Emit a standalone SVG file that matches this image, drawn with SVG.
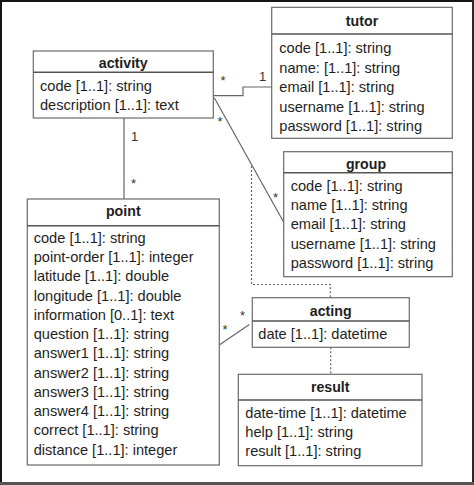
<svg xmlns="http://www.w3.org/2000/svg" width="474" height="485" viewBox="0 0 474 485">
<style>
.box{fill:#fff;stroke:#6a6a6a;stroke-width:1.2}
.sep{stroke:#555;stroke-width:1.6}
.t{font-family:"Liberation Sans",Arial,sans-serif;font-size:14.6px;fill:#1e1e1e}
.h{font-family:"Liberation Sans",Arial,sans-serif;font-size:14.2px;font-weight:bold;fill:#1e1e1e;text-anchor:middle}
.m{font-family:"Liberation Sans",Arial,sans-serif;font-size:13px;fill:#333}
.ln{fill:none;stroke:#666;stroke-width:1.2}
.dash{fill:none;stroke:#666;stroke-width:1.2;stroke-dasharray:2 2}
</style>
<rect x="0" y="0" width="474" height="485" fill="#fff"/>
<g id="frame">
<rect x="0" y="0" width="474" height="2" fill="#151515"/>
<rect x="0" y="0" width="2" height="485" fill="#151515"/>
<rect x="472" y="0" width="2" height="485" fill="#2a2a2a"/>
<rect x="0" y="482" width="474" height="3" fill="#555"/>
</g>
<g id="connectors">
<path class="ln" d="M213.3,95.7 H243 V87 H271.7"/>
<path class="ln" d="M124,118 V199"/>
<path class="ln" d="M214.3,97.7 L284,222.7"/>
<path class="dash" d="M251.5,166 V284.5 H330.3 V297.7"/>
<path class="dash" d="M330.7,347.3 V374.3"/>
<path class="ln" d="M219.3,345 L249.3,324.5"/>
<text class="m" x="220.5" y="85">*</text>
<text class="m" x="259" y="81">1</text>
<text class="m" x="131" y="141">1</text>
<text class="m" x="131" y="188">*</text>
<text class="m" x="217.5" y="126">*</text>
<text class="m" x="273" y="202">*</text>
<text class="m" x="222.5" y="334">*</text>
<text class="m" x="240" y="320">*</text>
</g>
<g id="tutor">
<rect class="box" x="271.7" y="7.3" width="180.6" height="131"/>
<line class="sep" x1="271.7" y1="34" x2="452.3" y2="34"/>
<text class="h" x="362" y="26">tutor</text>
<text class="t" x="279.3" y="53.3">code [1..1]: string</text>
<text class="t" x="279.3" y="72.7">name: [1..1]: string</text>
<text class="t" x="279.3" y="92.1">email [1..1]: string</text>
<text class="t" x="279.3" y="111.5">username [1..1]: string</text>
<text class="t" x="279.3" y="130.9">password [1..1]: string</text>
</g>
<g id="activity">
<rect class="box" x="33.3" y="51" width="180" height="67"/>
<line class="sep" x1="33.3" y1="72.3" x2="213.3" y2="72.3"/>
<text class="h" x="123.3" y="68.3">activity</text>
<text class="t" x="40" y="90.7">code [1..1]: string</text>
<text class="t" x="40" y="110">description [1..1]: text</text>
</g>
<g id="group">
<rect class="box" x="283.7" y="151.7" width="168.6" height="125"/>
<line class="sep" x1="283.7" y1="172.7" x2="452.3" y2="172.7"/>
<text class="h" x="366" y="169">group</text>
<text class="t" x="290.7" y="190.5">code [1..1]: string</text>
<text class="t" x="290.7" y="209.9">name [1..1]: string</text>
<text class="t" x="290.7" y="229.3">email [1..1]: string</text>
<text class="t" x="290.7" y="248.7">username [1..1]: string</text>
<text class="t" x="290.7" y="268.1">password [1..1]: string</text>
</g>
<g id="point">
<rect class="box" x="27.3" y="199" width="192" height="266"/>
<line class="sep" x1="27.3" y1="225.7" x2="219.3" y2="225.7"/>
<text class="h" x="123.3" y="216">point</text>
<text class="t" x="33.7" y="242.7">code [1..1]: string</text>
<text class="t" x="33.7" y="262">point-order [1..1]: integer</text>
<text class="t" x="33.7" y="281.2">latitude [1..1]: double</text>
<text class="t" x="33.7" y="300.5">longitude [1..1]: double</text>
<text class="t" x="33.7" y="319.8">information [0..1]: text</text>
<text class="t" x="33.7" y="339">question [1..1]: string</text>
<text class="t" x="33.7" y="358.3">answer1 [1..1]: string</text>
<text class="t" x="33.7" y="377.6">answer2 [1..1]: string</text>
<text class="t" x="33.7" y="396.9">answer3 [1..1]: string</text>
<text class="t" x="33.7" y="416.1">answer4 [1..1]: string</text>
<text class="t" x="33.7" y="435.4">correct [1..1]: string</text>
<text class="t" x="33.7" y="454.7">distance [1..1]: integer</text>
</g>
<g id="acting">
<rect class="box" x="252.3" y="297.7" width="157" height="49.6"/>
<line class="sep" x1="252.3" y1="321" x2="409.3" y2="321"/>
<text class="h" x="330.7" y="316">acting</text>
<text class="t" x="258.3" y="339">date [1..1]: datetime</text>
</g>
<g id="result">
<rect class="box" x="238.3" y="374.3" width="183.7" height="91.4"/>
<line class="sep" x1="238.3" y1="400" x2="422" y2="400"/>
<text class="h" x="330.2" y="392.3">result</text>
<text class="t" x="245.3" y="417.7">date-time [1..1]: datetime</text>
<text class="t" x="245.3" y="437">help [1..1]: string</text>
<text class="t" x="245.3" y="456.4">result [1..1]: string</text>
</g>
</svg>
